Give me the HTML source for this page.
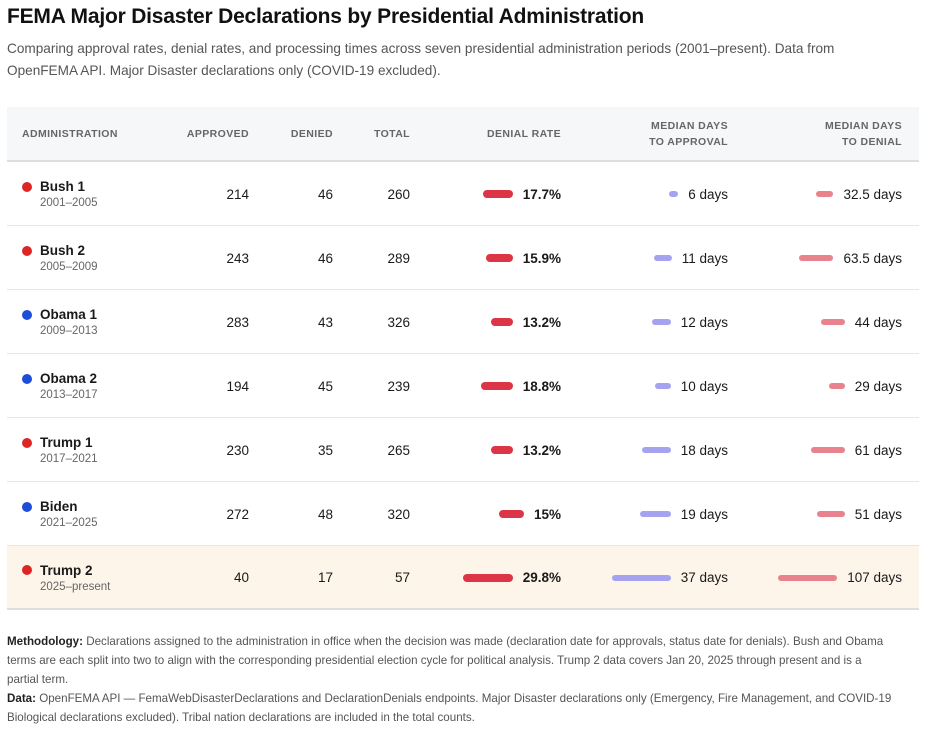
<!DOCTYPE html>
<html><head><meta charset="utf-8">
<style>
*{box-sizing:border-box;margin:0;padding:0}
body{width:931px;height:739px;background:#fff;font-family:"Liberation Sans",sans-serif;color:#1a1a1a;position:relative;overflow:hidden}
h1{position:absolute;left:7px;top:5px;font-size:21px;font-weight:bold;color:#111;letter-spacing:-0.2px}
.sub{position:absolute;left:7px;top:38px;font-size:13.6px;line-height:22px;color:#555;white-space:nowrap}
table{position:absolute;left:7px;top:107px;width:912px;border-collapse:collapse;table-layout:fixed}
thead tr{background:#f6f7f9;height:54px}
th{font-size:10.5px;font-weight:bold;color:#666;letter-spacing:0.4px;text-align:right;line-height:16px;border-bottom:2px solid #dcdde0;padding:0}
td{height:64px;border-bottom:1px solid #e5e6e8;font-size:13.5px;text-align:right;padding:2px 0 0 0}
tbody tr:last-child td{border-bottom:2px solid #dcdde0}
tr.hl{background:#fdf4ea}
.name{text-align:left;padding-left:15px}
.nm{font-weight:bold;font-size:13.5px;display:flex;align-items:center}
.dot{width:10px;height:10px;border-radius:50%;margin-right:8px;display:inline-block}
.yr{font-size:11.5px;color:#666;padding-left:18px;margin-top:3px}
.cell{display:flex;justify-content:flex-end;align-items:center}
.bar{border-radius:4px;margin-right:10px}
.foot{position:absolute;left:7px;top:632px;font-size:11.6px;line-height:19px;color:#555;white-space:nowrap}
.foot b{color:#222}
</style></head><body>
<h1>FEMA Major Disaster Declarations by Presidential Administration</h1>
<div class="sub">Comparing approval rates, denial rates, and processing times across seven presidential administration periods (2001–present). Data from<br>OpenFEMA API. Major Disaster declarations only (COVID-19 excluded).</div>
<table>
<colgroup><col style="width:150px"><col style="width:92px"><col style="width:84px"><col style="width:77px"><col style="width:151px"><col style="width:167px"><col style="width:191px"></colgroup>
<thead><tr>
<th style="text-align:left;padding-left:15px">ADMINISTRATION</th>
<th>APPROVED</th>
<th>DENIED</th>
<th>TOTAL</th>
<th>DENIAL RATE</th>
<th>MEDIAN DAYS<br>TO APPROVAL</th>
<th style="padding-right:17px">MEDIAN DAYS<br>TO DENIAL</th>
</tr></thead>
<tbody id="tb"></tbody>
</table>
<div class="foot"><b>Methodology:</b> Declarations assigned to the administration in office when the decision was made (declaration date for approvals, status date for denials). Bush and Obama<br>terms are each split into two to align with the corresponding presidential election cycle for political analysis. Trump 2 data covers Jan 20, 2025 through present and is a<br>partial term.<br><b>Data:</b> OpenFEMA API — FemaWebDisasterDeclarations and DeclarationDenials endpoints. Major Disaster declarations only (Emergency, Fire Management, and COVID-19<br>Biological declarations excluded). Tribal nation declarations are included in the total counts.</div>
<script>
const names=["Bush 1","Bush 2","Obama 1","Obama 2","Trump 1","Biden","Trump 2"];
const years=["2001–2005","2005–2009","2009–2013","2013–2017","2017–2021","2021–2025","2025–present"];
const parties=["R","R","D","D","R","D","R"];
const approved=[214,243,283,194,230,272,40];
const denied=[46,46,43,45,35,48,17];
const totals=[260,289,326,239,265,320,57];
const denialRate=[17.7,15.9,13.2,18.8,13.2,15,29.8];
const daysApproval=[6,11,12,10,18,19,37];
const daysDenial=[32.5,63.5,44,29,61,51,107];
const rateScale=v=>v*1.68, apprScale=v=>v*1.6, denScale=v=>v*0.55;
const tb=document.getElementById('tb');
names.forEach((n,i)=>{
  const tr=document.createElement('tr');
  
  
  if(i===names.length-1)tr.className='hl';
  const col=parties[i]==='R'?'#dc2626':'#1d4ed8';
  tr.innerHTML=
  `<td class="name"><div class="nm"><span class="dot" style="background:${col}"></span>${n}</div><div class="yr">${years[i]}</div></td>
  <td>${approved[i]}</td><td>${denied[i]}</td><td>${totals[i]}</td>
  <td><div class="cell"><span class="bar" style="width:${rateScale(denialRate[i])}px;height:8px;background:#dc3545"></span><b>${denialRate[i]}%</b></div></td>
  <td><div class="cell"><span class="bar" style="width:${apprScale(daysApproval[i])}px;height:6px;background:#a5a3f0"></span>${daysApproval[i]} days</div></td>
  <td style="padding-right:17px"><div class="cell"><span class="bar" style="width:${denScale(daysDenial[i])}px;height:6px;background:#e8828c"></span>${daysDenial[i]} days</div></td>`;
  tb.appendChild(tr);
});
</script>
</body></html>
